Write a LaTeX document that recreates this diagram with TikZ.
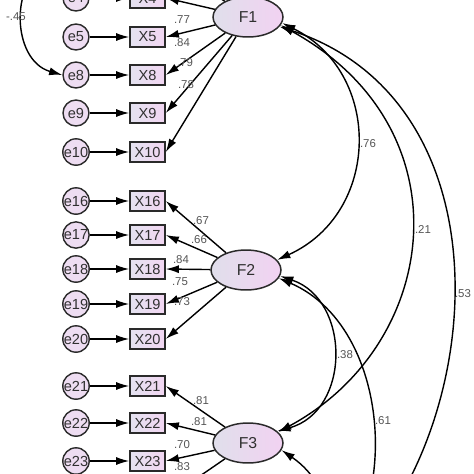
\documentclass[tikz,border=0pt]{standalone}
\usepackage{fontspec}
\setmainfont{Liberation Sans}
\usetikzlibrary{arrows.meta,shapes.geometric,shadings}
\definecolor{linec}{HTML}{2A2A2A}
\definecolor{txt}{HTML}{303030}
\definecolor{coefc}{HTML}{555555}
\definecolor{errfill}{HTML}{EEDDF2}
\definecolor{boxL}{HTML}{E4E2F0}
\definecolor{boxR}{HTML}{F2D6F2}
\definecolor{latL}{HTML}{E0DFEB}
\definecolor{latR}{HTML}{F2D2F2}
\begin{document}
\begin{tikzpicture}[x=0.02cm,y=-0.02cm,
  errnode/.style={circle, draw=linec, line width=0.8pt, fill=errfill, minimum size=0.52cm, inner sep=0pt, text=txt, font=\fontsize{8.3}{9}\selectfont},
  obsnode/.style={rectangle, draw=linec, line width=0.85pt, left color=boxL, right color=boxR, minimum width=0.7cm, minimum height=0.4cm, inner sep=0pt, text=txt, font=\fontsize{8.3}{9}\selectfont},
  latnode/.style={ellipse, draw=linec, line width=0.85pt, left color=latL, right color=latR, minimum width=1.4cm, minimum height=0.8cm, inner sep=0pt, text=txt, font=\fontsize{9}{10}\selectfont},
  coef/.style={inner sep=0pt, text=coefc, font=\fontsize{6.5}{7}\selectfont},
  pathline/.style={-{Latex[length=7.5pt,width=4.6pt]}, line width=0.8pt, draw=black},
  covline/.style={{Latex[length=7.5pt,width=4.6pt]}-{Latex[length=7.5pt,width=4.6pt]}, line width=0.8pt, draw=black}
]
\useasboundingbox (0,0) rectangle (474,474);
\clip (0,0) rectangle (474,474);
\fill[white] (0,0) rectangle (474,474);

% hidden items above / below the frame
\coordinate (x1) at (165,-113);
\coordinate (x2) at (165,-76);
\coordinate (x3) at (165,-39);
\coordinate (x24) at (165,500);
\coordinate (etop) at (63,-39);
\coordinate (f4a) at (290,606);
\coordinate (f4b) at (286,600);
\coordinate (f4c) at (284,600);

% latent factors
\node[latnode] (F1) at (248,17) {F1};
\node[latnode] (F2) at (246,270) {F2};
\node[latnode] (F3) at (248,443) {F3};

% observed and error nodes
\foreach \n/\y in {4/-2,5/37,8/75,9/113,10/152,16/201,17/235,18/269,19/304,20/339,21/386,22/423,23/461}{
  \node[errnode] (e\n) at (76,\y) {e\n};
  \node[obsnode] (x\n) at (147.5,\y) {X\n};
  \draw[pathline] (e\n) -- (x\n);
}

% loadings
\foreach \n in {4,5,8,9,10}{\draw[pathline] (F1) -- (x\n.east);}
\foreach \n in {1,2,3}{\draw[line width=0.8pt] (F1) -- (x\n);}
\foreach \n in {16,17,18,19,20}{\draw[pathline] (F2) -- (x\n.east);}
\foreach \n in {21,22,23}{\draw[pathline] (F3) -- (x\n.east);}
\draw[line width=0.8pt] (F3) -- (x24);

% loading labels
\node[coef] (l5) at (182,20) {.77};
\node[coef] (l8) at (182,43) {.84};
\node[coef] (l9) at (185,63) {.79};
\node[coef] (l10) at (186,85) {.78};
\node[coef] (l16) at (201,221) {.67};
\node[coef] (l17) at (199,240) {.66};
\node[coef] (l18) at (181,260) {.84};
\node[coef] (l19) at (180,282) {.75};
\node[coef] (l20) at (182,302) {.73};
\node[coef] (l21) at (201,401) {.81};
\node[coef] (l22) at (199,422) {.81};
\node[coef] (l23) at (182,445) {.70};
\node[coef] (l24) at (182,467) {.83};

% error covariance
\draw[covline] (etop) .. controls (10,-25) and (10,60) .. (e8.west);
\node[coef] (c45) at (16,17) {-.45};

% factor covariances
\draw[covline] (F1.-10) .. controls (383,73) and (381,213) .. (F2.18);
\node[coef] (c76) at (368,144) {.76};
\draw[covline] (F1.-14) .. controls (469,129) and (440,345) .. (F3.20);
\node[coef] (c21) at (423,230) {.21};
\draw[covline] (F1.-17) .. controls (535,110) and (480,500) .. (f4a);
\node[coef] (c53) at (463,294) {.53};
\draw[covline] (F2.-10) .. controls (351,300) and (351,411) .. (F3.22);
\node[coef] (c38) at (345,355) {.38};
\draw[covline] (F2.-14) .. controls (400,330) and (405,546) .. (f4b);
\node[coef] (c61) at (383,421) {.61};
\draw[covline] (F3.-12) .. controls (340,490) and (340,560) .. (f4c);
\end{tikzpicture}
\end{document}
